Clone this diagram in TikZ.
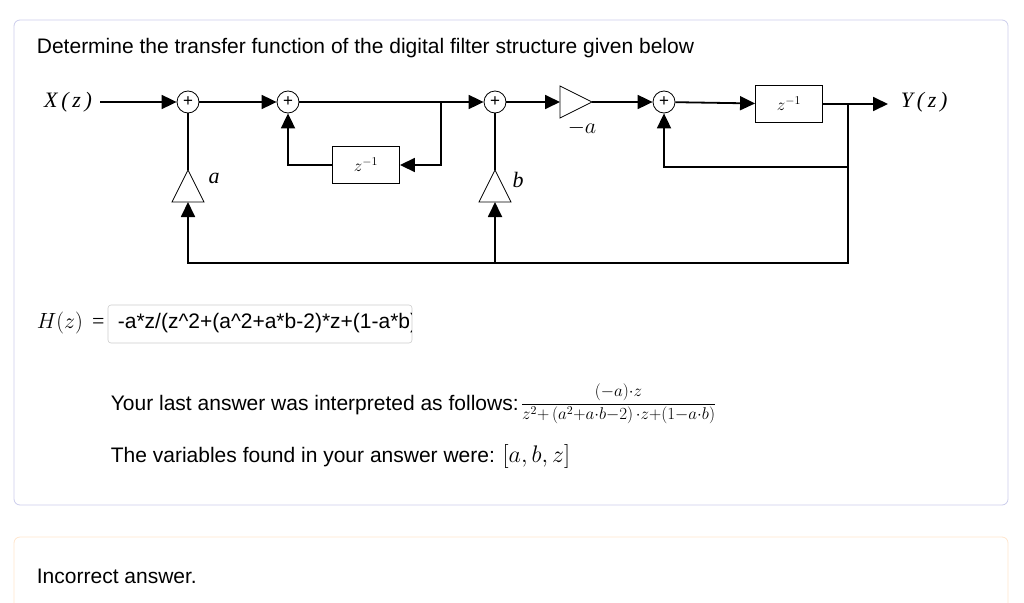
\RequirePackage{fix-cm}
\documentclass[tikz,border=0pt]{standalone}
\usepackage{fontspec}
\setmainfont{Liberation Sans}
\newfontfamily\tms{Liberation Serif}
\usetikzlibrary{arrows.meta}
\begin{document}
\begin{tikzpicture}[x=1pt,y=-1pt,
  line width=1.8pt,
  arr/.style={-{Triangle[length=15pt,width=14pt]}},
  sum/.style={circle,draw,line width=0.8pt,minimum size=22pt,inner sep=0pt,fill=white},
  dly/.style={rectangle,draw,line width=0.9pt,minimum width=67pt,minimum height=37pt,fill=white,font=\tms\fontsize{17}{17}\selectfont},
  txt/.style={anchor=west,inner sep=0pt,font=\fontsize{21}{24}\selectfont},
  sig/.style={inner sep=0pt,font=\tms\itshape\fontsize{22}{24}\selectfont},
  tri/.style={draw,line width=0.8pt,fill=white}]
\useasboundingbox (0,0) rectangle (1024,602);
% panels
\draw[line width=0.8pt,draw=cyan!25!blue!20,rounded corners=6pt] (14,20) rectangle (1008,505);
\draw[line width=0.8pt,draw=orange!20,rounded corners=6pt] (14,537) rectangle (1008,620);
\node[txt] (title) at (36,48) {Determine the transfer function of the digital filter structure given below};
% diagram nodes
\node[sig] (x) at (68,102) {X\,(\,z\,)};
\node[sum] (s1) at (188,102) {\fontsize{17}{17}\selectfont +};
\node[sum] (s2) at (288,102) {\fontsize{17}{17}\selectfont +};
\node[sum] (s3) at (495,102) {\fontsize{17}{17}\selectfont +};
\node[sum] (s4) at (664,102) {\fontsize{17}{17}\selectfont +};
\node[dly] (d1) at (366,165) {$z^{-1}$};
\node[dly] (d2) at (789,104) {$z^{-1}$};
\node[sig,anchor=west] (y) at (900,102) {Y\,(\,z\,)};
% gains
\draw[tri] (560,86) -- (592,102) -- (560,118) -- cycle;
\coordinate (ga) at (560,102); \coordinate (gb) at (592,102);
\node[sig] (la) at (582,128) {$-a$};
\draw[tri] (188,170) -- (204,202) -- (172,202) -- cycle;
\coordinate (aa) at (188,170); \coordinate (ab) at (188,202);
\node[sig] (lga) at (214,178) {a};
\draw[tri] (495,170) -- (511,202) -- (479,202) -- cycle;
\coordinate (ba) at (495,170); \coordinate (bb) at (495,202);
\node[sig] (lgb) at (518,180) {b};
% coordinates
\coordinate (xs) at (100,102);
\coordinate (br1) at (441,102);
\coordinate (br2) at (848,104);
\coordinate (yo) at (888,104);
% connectors
\draw[arr] (xs) -- (s1);
\draw[arr] (s1) -- (s2);
\draw[arr] (s2) -- (s3);
\draw[arr] (br1) |- (d1.east);
\draw[arr] (d1.west) -| (s2.south);
\draw[arr] (s3) -- (ga);
\draw[arr] (gb) -- (s4);
\draw[arr] (s4) -- (d2);
\draw[arr] (d2) -- (yo);
\draw[arr] (br2) |- (664,167) -- (s4.south);
\draw (s1.south) -- (aa);
\draw (s3.south) -- (ba);
\draw[arr] (br2) |- (188,263) -- (ab);
\draw[arr] (495,263) -- (bb);
% answer area
\node[anchor=west,inner sep=0pt] (h) at (36,323) {\tms\fontsize{22}{24}\selectfont $H(z)$\, =};
\draw[line width=0.6pt,draw=gray!40,rounded corners=3pt] (108,305) rectangle (412,343);
\begin{scope}
\clip (109,306) rectangle (411,342);
\node[txt] (ans) at (117,323) {-a*z/(z\string^2+(a\string^2+a*b-2)*z+(1-a*b)};
\end{scope}
\node[txt] (t1) at (110,405) {Your last answer was interpreted as follows:};
\node[anchor=west,inner sep=0pt] (frac) at (520,404) {\tms\fontsize{17}{17}\selectfont $\displaystyle\frac{(-a){\cdot}z}{z^2{+}\left(a^2{+}a{\cdot}b{-}2\right){\cdot}z{+}(1{-}a{\cdot}b)}$};
\node[txt] (t2) at (110,456) {The variables found in your answer were: {\tms\fontsize{24}{24}\selectfont$[a,b,z]$}};
\node[txt] (t3) at (36,576) {Incorrect answer.};
\end{tikzpicture}
\end{document}
